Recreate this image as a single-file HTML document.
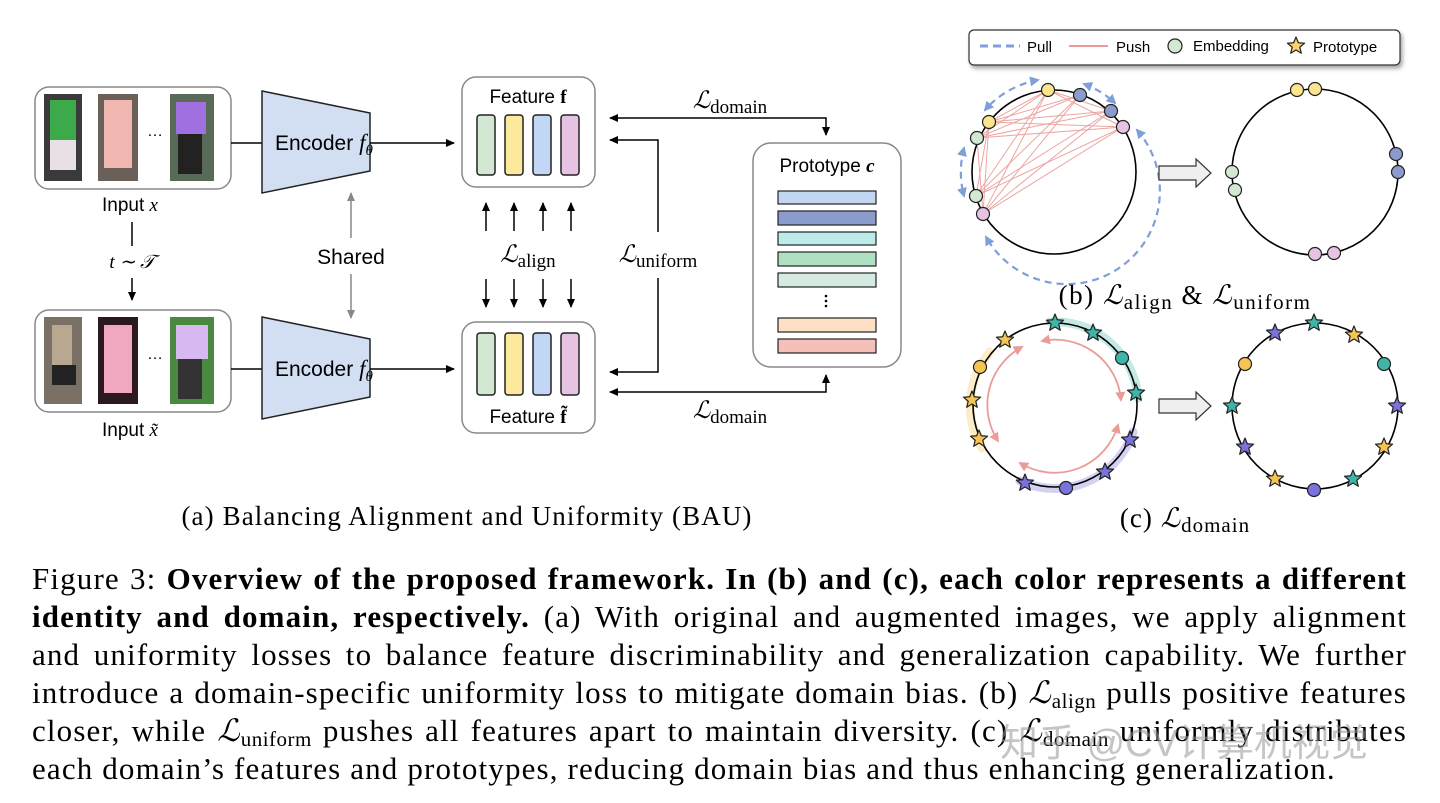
<!DOCTYPE html>
<html><head><meta charset="utf-8"><style>
html,body{margin:0;padding:0;background:#fff;}
body{width:1440px;height:803px;position:relative;overflow:hidden;}
svg{position:absolute;left:0;top:0;}
.cap{position:absolute;left:32px;width:1375px;font-family:"Liberation Serif",serif;font-size:31px;letter-spacing:1.15px;line-height:38px;white-space:nowrap;color:#000;text-align:justify;text-align-last:justify;}
.cap sub{font-size:21px;vertical-align:-5px;line-height:0;letter-spacing:0.5px;}
.L{font-style:italic;}
.wm{position:absolute;left:1000px;top:712px;font-family:"Liberation Sans","Noto Sans CJK SC",sans-serif;font-size:38px;color:rgba(150,150,150,0.55);}
</style></head><body>
<svg width="1440" height="803" viewBox="0 0 1440 803" xmlns="http://www.w3.org/2000/svg">
<defs>
<marker id="ah" markerWidth="10" markerHeight="10" refX="8" refY="5" orient="auto-start-reverse" markerUnits="userSpaceOnUse"><path d="M0,1 L9,5 L0,9 Z" fill="#000"/></marker>
<marker id="ahg" markerWidth="10" markerHeight="10" refX="8" refY="5" orient="auto-start-reverse" markerUnits="userSpaceOnUse"><path d="M0,1 L9,5 L0,9 Z" fill="#888"/></marker>
<marker id="ahb" markerWidth="12" markerHeight="12" refX="8" refY="6" orient="auto-start-reverse" markerUnits="userSpaceOnUse"><path d="M0,1 L10,6 L0,11 Z" fill="#7f9fd8"/></marker>
<marker id="ahp" markerWidth="12" markerHeight="12" refX="8" refY="6" orient="auto-start-reverse" markerUnits="userSpaceOnUse"><path d="M0,1 L10,6 L0,11 Z" fill="#eb9c98"/></marker>
<symbol id="st" viewBox="-10 -10 20 20" overflow="visible"><polygon points="0,-9 2.35,-3.24 8.56,-2.78 3.8,1.24 5.29,7.28 0,4 -5.29,7.28 -3.8,1.24 -8.56,-2.78 -2.35,-3.24" stroke="#222" stroke-width="1.2" stroke-linejoin="round"/></symbol>
</defs>
<g font-family="Liberation Sans, DejaVu Sans, sans-serif" fill="#000">
<rect x="35" y="87" width="196" height="102" rx="14" fill="#fff" stroke="#888" stroke-width="1.5"/>
<rect x="44" y="94" width="38" height="87" fill="#3a3a3a"/><rect x="50" y="100" width="26" height="40" fill="#3caa4a"/><rect x="50" y="140" width="26" height="30" fill="#e8e0e6"/>
<rect x="98" y="94" width="40" height="87" fill="#6a6058"/><rect x="104" y="100" width="28" height="68" fill="#f0b7b0"/>
<text x="155" y="136" font-size="16" text-anchor="middle">…</text>
<rect x="170" y="94" width="44" height="87" fill="#5a6a58"/><rect x="176" y="102" width="30" height="32" fill="#a070e0"/><rect x="178" y="134" width="24" height="40" fill="#222"/>
<text x="130" y="211" font-size="19" text-anchor="middle">Input <tspan font-family="Liberation Serif" font-style="italic">x</tspan></text>
<line x1="132" y1="222" x2="132" y2="246" stroke="#000" stroke-width="1.5"/>
<text x="132" y="268" font-size="19" text-anchor="middle" font-family="Liberation Serif" font-style="italic">t ∼ 𝒯</text>
<line x1="132" y1="278" x2="132" y2="300" stroke="#000" stroke-width="1.5" marker-end="url(#ah)"/>
<rect x="35" y="310" width="196" height="102" rx="14" fill="#fff" stroke="#888" stroke-width="1.5"/>
<rect x="44" y="317" width="38" height="87" fill="#7a7066"/><rect x="52" y="325" width="20" height="40" fill="#b8a890"/><rect x="52" y="365" width="24" height="20" fill="#222"/>
<rect x="98" y="317" width="40" height="87" fill="#2a1a20"/><rect x="104" y="325" width="28" height="68" fill="#f0a8c0"/>
<text x="155" y="359" font-size="16" text-anchor="middle">…</text>
<rect x="170" y="317" width="44" height="87" fill="#4a8a40"/><rect x="176" y="325" width="32" height="34" fill="#d8b8f0"/><rect x="178" y="359" width="24" height="40" fill="#333"/>
<text x="130" y="436" font-size="19" text-anchor="middle">Input <tspan font-family="Liberation Serif" font-style="italic">x̃</tspan></text>
<line x1="231" y1="143" x2="262" y2="143" stroke="#000" stroke-width="1.5"/>
<polygon points="262,91 370,113 370,171 262,193" fill="#d2def1" stroke="#222" stroke-width="1.5"/>
<text x="275" y="150" font-size="21">Encoder <tspan font-family="Liberation Serif" font-style="italic" font-size="23">f</tspan><tspan font-family="Liberation Serif" font-style="italic" font-size="15" dy="5">θ</tspan></text>
<line x1="370" y1="143" x2="454" y2="143" stroke="#000" stroke-width="1.5" marker-end="url(#ah)"/>
<line x1="231" y1="369" x2="262" y2="369" stroke="#000" stroke-width="1.5"/>
<polygon points="262,317 370,339 370,397 262,419" fill="#d2def1" stroke="#222" stroke-width="1.5"/>
<text x="275" y="376" font-size="21">Encoder <tspan font-family="Liberation Serif" font-style="italic" font-size="23">f</tspan><tspan font-family="Liberation Serif" font-style="italic" font-size="15" dy="5">θ</tspan></text>
<line x1="370" y1="369" x2="454" y2="369" stroke="#000" stroke-width="1.5" marker-end="url(#ah)"/>
<line x1="351" y1="238" x2="351" y2="193" stroke="#888" stroke-width="1.5" marker-end="url(#ahg)"/>
<text x="351" y="264" font-size="21" text-anchor="middle">Shared</text>
<line x1="351" y1="274" x2="351" y2="318" stroke="#888" stroke-width="1.5" marker-end="url(#ahg)"/>
<rect x="462" y="77" width="133" height="110" rx="14" fill="#fff" stroke="#888" stroke-width="1.5"/>
<text x="528" y="103" font-size="19" text-anchor="middle">Feature <tspan font-family="Liberation Serif" font-weight="bold">f</tspan></text>
<rect x="477" y="115" width="18" height="60" rx="3" fill="#d2e8d3" stroke="#222" stroke-width="1.5"/>
<rect x="505" y="115" width="18" height="60" rx="3" fill="#fde99c" stroke="#222" stroke-width="1.5"/>
<rect x="533" y="115" width="18" height="60" rx="3" fill="#c2d7f5" stroke="#222" stroke-width="1.5"/>
<rect x="561" y="115" width="18" height="60" rx="3" fill="#e6c3e3" stroke="#222" stroke-width="1.5"/>
<rect x="462" y="322" width="133" height="111" rx="14" fill="#fff" stroke="#888" stroke-width="1.5"/>
<rect x="477" y="333" width="18" height="62" rx="3" fill="#d2e8d3" stroke="#222" stroke-width="1.5"/>
<rect x="505" y="333" width="18" height="62" rx="3" fill="#fde99c" stroke="#222" stroke-width="1.5"/>
<rect x="533" y="333" width="18" height="62" rx="3" fill="#c2d7f5" stroke="#222" stroke-width="1.5"/>
<rect x="561" y="333" width="18" height="62" rx="3" fill="#e6c3e3" stroke="#222" stroke-width="1.5"/>
<text x="528" y="423" font-size="19" text-anchor="middle">Feature <tspan font-family="Liberation Serif" font-weight="bold">f̃</tspan></text>
<g stroke="#000" stroke-width="1.5">
<line x1="486" y1="231" x2="486" y2="203" marker-end="url(#ah)"/><line x1="514" y1="231" x2="514" y2="203" marker-end="url(#ah)"/><line x1="543" y1="231" x2="543" y2="203" marker-end="url(#ah)"/><line x1="571" y1="231" x2="571" y2="203" marker-end="url(#ah)"/>
<line x1="486" y1="279" x2="486" y2="307" marker-end="url(#ah)"/><line x1="514" y1="279" x2="514" y2="307" marker-end="url(#ah)"/><line x1="543" y1="279" x2="543" y2="307" marker-end="url(#ah)"/><line x1="571" y1="279" x2="571" y2="307" marker-end="url(#ah)"/>
</g>
<text x="528" y="262" font-size="24" text-anchor="middle" font-family="Liberation Serif"><tspan font-style="italic">ℒ</tspan><tspan font-size="19" dy="5">align</tspan></text>
<g stroke="#000" stroke-width="1.5" fill="none">
<polyline points="826,135 826,118 610,118" marker-end="url(#ah)" marker-start="url(#ah)"/>
<polyline points="658,232 658,140 610,140" marker-end="url(#ah)"/>
<polyline points="658,278 658,372 610,372" marker-end="url(#ah)"/>
<polyline points="826,375 826,392 610,392" marker-end="url(#ah)" marker-start="url(#ah)"/>
</g>
<text x="730" y="108" font-size="24" text-anchor="middle" font-family="Liberation Serif"><tspan font-style="italic">ℒ</tspan><tspan font-size="19" dy="5">domain</tspan></text>
<text x="658" y="262" font-size="24" text-anchor="middle" font-family="Liberation Serif"><tspan font-style="italic">ℒ</tspan><tspan font-size="19" dy="5">uniform</tspan></text>
<text x="730" y="418" font-size="24" text-anchor="middle" font-family="Liberation Serif"><tspan font-style="italic">ℒ</tspan><tspan font-size="19" dy="5">domain</tspan></text>
<rect x="753" y="143" width="148" height="224" rx="18" fill="#fff" stroke="#888" stroke-width="1.5"/>
<text x="827" y="172" font-size="19" text-anchor="middle">Prototype <tspan font-family="Liberation Serif" font-style="italic" font-weight="bold">c</tspan></text>
<g stroke="#222" stroke-width="1.2">
<rect x="778" y="191" width="98" height="13" fill="#c3d6f0"/>
<rect x="778" y="211" width="98" height="14" fill="#8c9bcd"/>
<rect x="778" y="232" width="98" height="13" fill="#bcebea"/>
<rect x="778" y="252" width="98" height="14" fill="#aee0c2"/>
<rect x="778" y="273" width="98" height="14" fill="#d3ebe1"/>
<rect x="778" y="318" width="98" height="14" fill="#fde0c6"/>
<rect x="778" y="339" width="98" height="14" fill="#f6c0ba"/>
</g>
<circle cx="826" cy="296" r="1.3"/><circle cx="826" cy="301" r="1.3"/><circle cx="826" cy="306" r="1.3"/>
<text x="467" y="525" font-size="27" letter-spacing="1.1" text-anchor="middle" font-family="Liberation Serif">(a) Balancing Alignment and Uniformity (BAU)</text>

<rect x="969" y="30" width="431" height="35" rx="5" fill="#fff" stroke="#333" stroke-width="1.2" style="filter:drop-shadow(2px 3px 2px rgba(0,0,0,0.35))"/>
<line x1="980" y1="46" x2="1020" y2="46" stroke="#7f9fd8" stroke-width="3" stroke-dasharray="8,5"/>
<text x="1027" y="52" font-size="15">Pull</text>
<line x1="1069" y1="46" x2="1108" y2="46" stroke="#eb9c98" stroke-width="2"/>
<text x="1116" y="52" font-size="15">Push</text>
<circle cx="1175" cy="46" r="7" fill="#d2e8d3" stroke="#222" stroke-width="1.2"/>
<text x="1193" y="51" font-size="15">Embedding</text>
<use href="#st" x="1286" y="36" width="20" height="20" fill="#fcd06a"/>
<text x="1313" y="52" font-size="15">Prototype</text>

<circle cx="1054" cy="172" r="82" fill="none" stroke="#000" stroke-width="1.6"/>
<g stroke="#eb9c98" stroke-width="1" opacity="0.9">
<line x1="989" y1="122" x2="1048" y2="90"/><line x1="989" y1="122" x2="1080" y2="95"/><line x1="989" y1="122" x2="1111" y2="111"/><line x1="989" y1="122" x2="1123" y2="127"/>
<line x1="977" y1="138" x2="1048" y2="90"/><line x1="977" y1="138" x2="1080" y2="95"/><line x1="977" y1="138" x2="1111" y2="111"/><line x1="977" y1="138" x2="1123" y2="127"/>
<line x1="976" y1="196" x2="1048" y2="90"/><line x1="976" y1="196" x2="1080" y2="95"/><line x1="976" y1="196" x2="1111" y2="111"/><line x1="976" y1="196" x2="1123" y2="127"/>
<line x1="983" y1="214" x2="1048" y2="90"/><line x1="983" y1="214" x2="1080" y2="95"/><line x1="983" y1="214" x2="1111" y2="111"/><line x1="983" y1="214" x2="1123" y2="127"/>
<line x1="989" y1="122" x2="976" y2="196"/><line x1="989" y1="122" x2="983" y2="214"/><line x1="977" y1="138" x2="983" y2="214"/>
<line x1="1048" y1="90" x2="1123" y2="127"/><line x1="1048" y1="90" x2="1111" y2="111"/>
</g>
<g fill="none" stroke="#7f9fd8" stroke-width="2.2" stroke-dasharray="7,5">
<path d="M1038,80 A93,93 0 0 0 985,110" marker-start="url(#ahb)" marker-end="url(#ahb)"/>
<path d="M1084,84 A93,93 0 0 1 1115,103" marker-start="url(#ahb)" marker-end="url(#ahb)"/>
<path d="M964,148 A93,93 0 0 0 964,196" marker-start="url(#ahb)" marker-end="url(#ahb)"/>
<path d="M1137,130 A93,93 0 1 1 986,237" marker-start="url(#ahb)" marker-end="url(#ahb)"/>
</g>
<g stroke="#222" stroke-width="1.2">
<circle cx="1048" cy="90" r="6.5" fill="#fde58f"/><circle cx="1080" cy="95" r="6.5" fill="#8c9bcd"/><circle cx="1111" cy="111" r="6.5" fill="#8c9bcd"/><circle cx="1123" cy="127" r="6.5" fill="#e6c3e3"/>
<circle cx="989" cy="122" r="6.5" fill="#fde58f"/><circle cx="977" cy="138" r="6.5" fill="#d2e8d3"/><circle cx="976" cy="196" r="6.5" fill="#d2e8d3"/><circle cx="983" cy="214" r="6.5" fill="#e6c3e3"/>
</g>
<polygon points="1159,166 1196,166 1196,159 1211,173 1196,187 1196,180 1159,180" fill="#efefef" stroke="#333" stroke-width="1.2"/>
<circle cx="1315" cy="172" r="83" fill="none" stroke="#000" stroke-width="1.6"/>
<g stroke="#222" stroke-width="1.2">
<circle cx="1297" cy="90" r="6.5" fill="#fde58f"/><circle cx="1315" cy="89" r="6.5" fill="#fde58f"/>
<circle cx="1396" cy="154" r="6.5" fill="#8c9bcd"/><circle cx="1398" cy="172" r="6.5" fill="#8c9bcd"/>
<circle cx="1232" cy="172" r="6.5" fill="#d2e8d3"/><circle cx="1235" cy="190" r="6.5" fill="#d2e8d3"/>
<circle cx="1315" cy="254" r="6.5" fill="#e6c3e3"/><circle cx="1334" cy="253" r="6.5" fill="#e6c3e3"/>
</g>
<text x="1185" y="304" font-size="27" letter-spacing="1.5" text-anchor="middle" font-family="Liberation Serif">(b) <tspan font-style="italic">ℒ</tspan><tspan font-size="21" dy="5">align</tspan><tspan dy="-5"> &amp; </tspan><tspan font-style="italic">ℒ</tspan><tspan font-size="21" dy="5">uniform</tspan></text>

<g fill="none" stroke-width="9" stroke-linecap="round" opacity="0.3">
<path d="M990,352 A83,83 0 0 0 982,448" stroke="#f6c453"/>
<path d="M1050,322 A83,83 0 0 1 1138,398" stroke="#3fb5a8"/>
<path d="M1133,432 A83,83 0 0 1 1020,481" stroke="#6d6ad6"/>
</g>
<circle cx="1055" cy="405" r="82" fill="none" stroke="#000" stroke-width="1.6"/>
<g fill="none" stroke="#eb9c98" stroke-width="1.8">
<path d="M1042,341 A66,66 0 0 1 1121,400" marker-start="url(#ahp)" marker-end="url(#ahp)"/>
<path d="M1022,347 A66,66 0 0 0 998,441" marker-start="url(#ahp)" marker-end="url(#ahp)"/>
<path d="M1020,463 A66,66 0 0 0 1118,425" marker-start="url(#ahp)" marker-end="url(#ahp)"/>
</g>
<g>
<use href="#st" x="1045" y="313" width="20" height="20" fill="#3fb5a8"/>
<use href="#st" x="1083" y="323" width="20" height="20" fill="#3fb5a8"/>
<use href="#st" x="1126" y="383" width="20" height="20" fill="#3fb5a8"/>
<use href="#st" x="1120" y="430" width="20" height="20" fill="#7b73dc"/>
<use href="#st" x="1095" y="462" width="20" height="20" fill="#7b73dc"/>
<use href="#st" x="1015" y="473" width="20" height="20" fill="#7b73dc"/>
<use href="#st" x="995" y="330" width="20" height="20" fill="#f6c453"/>
<use href="#st" x="962" y="390" width="20" height="20" fill="#f6c453"/>
<use href="#st" x="969" y="429" width="20" height="20" fill="#f6c453"/>
</g>
<g stroke="#222" stroke-width="1.2">
<circle cx="1122" cy="358" r="6.5" fill="#3fb5a8"/><circle cx="1066" cy="488" r="6.5" fill="#7b73dc"/><circle cx="980" cy="367" r="6.5" fill="#f6c453"/>
</g>
<polygon points="1159,399 1196,399 1196,392 1211,406 1196,420 1196,413 1159,413" fill="#efefef" stroke="#333" stroke-width="1.2"/>
<circle cx="1315" cy="406" r="83" fill="none" stroke="#000" stroke-width="1.6"/>
<g>
<use href="#st" x="1265" y="323" width="20" height="20" fill="#7b73dc"/>
<use href="#st" x="1304" y="313" width="20" height="20" fill="#3fb5a8"/>
<use href="#st" x="1344" y="325" width="20" height="20" fill="#f6c453"/>
<use href="#st" x="1387" y="396" width="20" height="20" fill="#7b73dc"/>
<use href="#st" x="1374" y="437" width="20" height="20" fill="#f6c453"/>
<use href="#st" x="1343" y="469" width="20" height="20" fill="#3fb5a8"/>
<use href="#st" x="1265" y="469" width="20" height="20" fill="#f6c453"/>
<use href="#st" x="1235" y="437" width="20" height="20" fill="#7b73dc"/>
<use href="#st" x="1222" y="396" width="20" height="20" fill="#3fb5a8"/>
</g>
<g stroke="#222" stroke-width="1.2">
<circle cx="1384" cy="364" r="6.5" fill="#3fb5a8"/><circle cx="1314" cy="490" r="6.5" fill="#7b73dc"/><circle cx="1245" cy="364" r="6.5" fill="#f6c453"/>
</g>
<text x="1185" y="527" font-size="27" letter-spacing="1" text-anchor="middle" font-family="Liberation Serif">(c) <tspan font-style="italic">ℒ</tspan><tspan font-size="21" dy="5">domain</tspan></text>
</g>
</svg>
<div class="cap" style="top:560px">Figure 3: <b>Overview of the proposed framework. In (b) and (c), each color represents a different</b></div>
<div class="cap" style="top:598px"><b>identity and domain, respectively.</b> (a) With original and augmented images, we apply alignment</div>
<div class="cap" style="top:636px">and uniformity losses to balance feature discriminability and generalization capability. We further</div>
<div class="cap" style="top:674px">introduce a domain-specific uniformity loss to mitigate domain bias. (b) <span class="L">ℒ</span><sub>align</sub> pulls positive features</div>
<div class="cap" style="top:712px">closer, while <span class="L">ℒ</span><sub>uniform</sub> pushes all features apart to maintain diversity. (c) <span class="L">ℒ</span><sub>domain</sub> uniformly distributes</div>
<div class="cap" style="top:750px;text-align:left;text-align-last:left">each domain’s features and prototypes, reducing domain bias and thus enhancing generalization.</div>
<div class="wm">知乎 @CV计算机视觉</div>
</body></html>
